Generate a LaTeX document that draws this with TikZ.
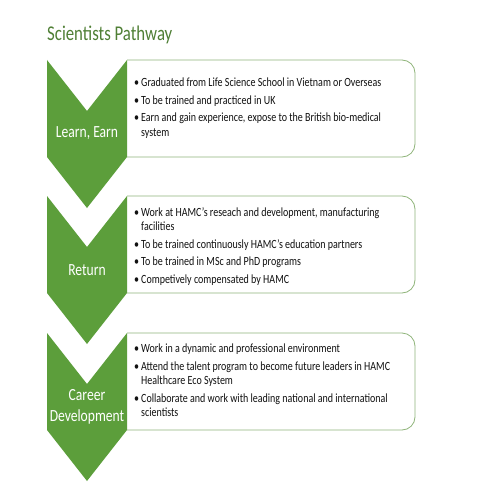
\documentclass[tikz,border=0pt]{standalone}
\usepackage{fontspec}
\setmainfont{Carlito}[FakeStretch=0.8]
\definecolor{chev}{HTML}{5C9E3B}
\definecolor{ttl}{HTML}{4F7F35}
\definecolor{bord}{HTML}{8FB57A}
\definecolor{txt}{HTML}{111111}
\newcommand{\bl}[1]{\makebox[7pt][l]{\textbullet}#1}
\newcommand{\ct}[1]{\hspace*{7pt}#1}
\tikzset{
  chevshape/.style={fill=chev, draw=none},
  boxshape/.style={draw=bord, line width=0.8pt, rounded corners=13pt, fill=white},
  chevlabel/.style={text=white, font=\fontsize{17}{20}\selectfont, align=center, inner sep=0pt},
  bultext/.style={text=txt, font=\fontsize{12.5}{14.5}\selectfont, align=left, anchor=north west, inner sep=0pt},
}
\begin{document}
\begin{tikzpicture}[x=1pt,y=-1pt]
\useasboundingbox[fill=white] (0,0) rectangle (495,495);
\node[anchor=base west, inner sep=0pt, text=ttl, font=\fontsize{21}{24}\selectfont] (title) at (47,41) {Scientists Pathway};
\foreach \t/\n in {60/a,196/b,333/c}{
  \draw[boxshape] (127,\t) -- (415,\t) -- (415,\t+97) -- (127,\t+97);
  \fill[chevshape] (47,\t) -- (87,\t+51) -- (127,\t) -- (127,\t+97) -- (87,\t+148) -- (47,\t+97) -- cycle;
}
\node[chevlabel] (l1) at (87,133) {Learn, Earn};
\node[chevlabel] (l2) at (87,270) {Return};
\node[chevlabel, font=\fontsize{17}{21}\selectfont] (l3) at (87,407) {Career\\Development};
\node[bultext] (t1) at (134,78) {\bl{Graduated from Life Science School in Vietnam or Overseas}\\[3pt]
\bl{To be trained and practiced in UK}\\[3pt]
\bl{Earn and gain experience, expose to the British bio-medical}\\
\ct{system}};
\node[bultext] (t2) at (134,207) {\bl{Work at HAMC's reseach and development, manufacturing}\\
\ct{facilities}\\[3pt]
\bl{To be trained continuously HAMC's education partners}\\[3pt]
\bl{To be trained in MSc and PhD programs}\\[3pt]
\bl{Competively compensated by HAMC}};
\node[bultext] (t3) at (134,344) {\bl{Work in a dynamic and professional environment}\\[3pt]
\bl{Attend the talent program to become future leaders in HAMC}\\
\ct{Healthcare Eco System}\\[3pt]
\bl{Collaborate and work with leading national and international}\\
\ct{scientists}};
\end{tikzpicture}
\end{document}
